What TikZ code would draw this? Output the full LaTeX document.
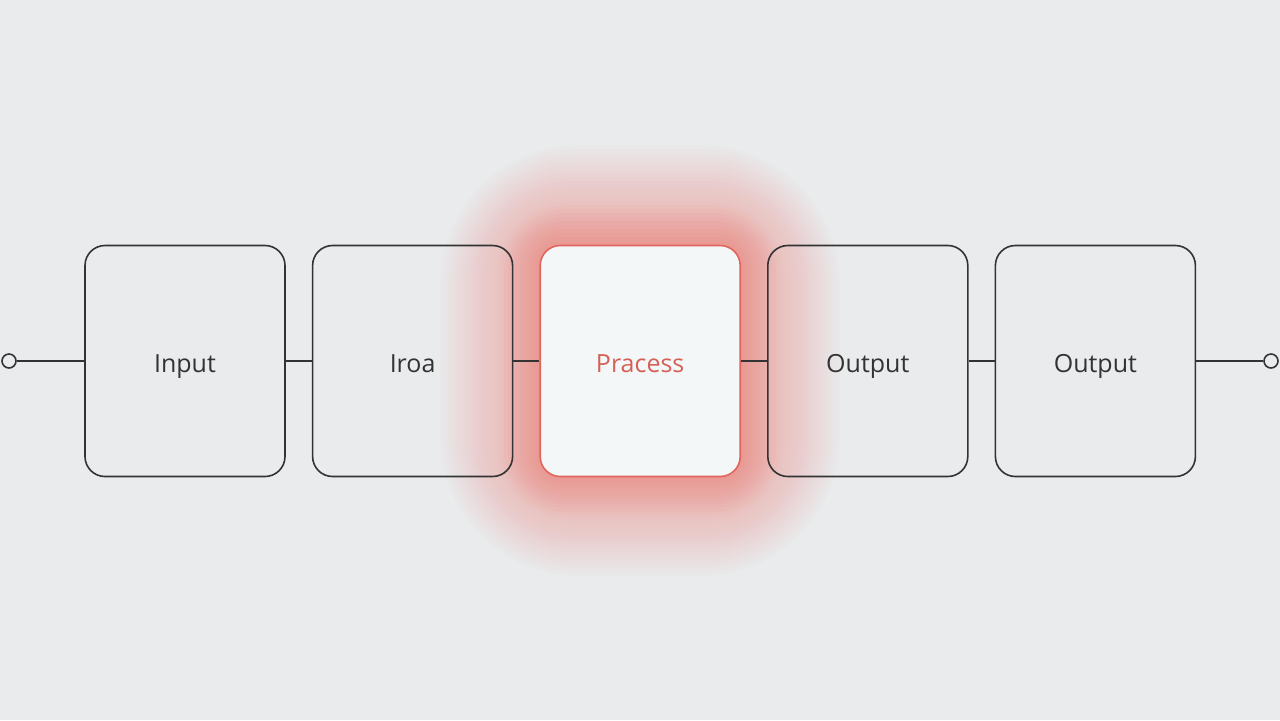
\documentclass[tikz,border=0pt]{standalone}
\usepackage{fontspec}
\setmainfont{Open Sans}
\usepackage{tikz}
\usetikzlibrary{positioning}
\definecolor{bgcol}{HTML}{E9EBEC}
\definecolor{linecol}{HTML}{333333}
\definecolor{hotcol}{HTML}{E0655B}
\definecolor{glowcol}{HTML}{F47A70}
\definecolor{boxfill}{HTML}{F4F7F8}

\begin{document}
\begin{tikzpicture}[
        x=0.5pt, y=-0.5pt,
        % Set the overall look of the stages
        stage/.style={draw=linecol, line width=0.8pt,
            rounded corners=10pt, minimum width=100pt, minimum height=115.5pt,
            inner sep=0pt, text height=11.5pt, text depth=0.5pt,
            text=linecol, font=\fontsize{12.5}{14}\selectfont},
        hotstage/.style={stage, draw=hotcol, fill=boxfill, text=hotcol!95!black},
        port/.style={circle, draw=linecol, line width=0.8pt, fill=bgcol,
            minimum size=7pt, inner sep=0pt},
        link/.style={draw=linecol, line width=0.8pt},
        node distance=13pt
    ]
    \fill[bgcol] (0,0) rectangle (1280,720);
    \useasboundingbox (0,0) rectangle (1280,720);
    % soft glow behind the highlighted stage
    \foreach \d in {0,4,...,100} {
        \fill[glowcol, opacity=0.025, rounded corners=10pt+\d*0.6pt]
            (540-\d,245-\d) rectangle (740+\d,476+\d);
    }
    \foreach \d in {0,4,...,40} {
        \fill[glowcol, opacity=0.04, rounded corners=10pt+\d*0.6pt]
            (540-\d,245-\d) rectangle (740+\d,476+\d);
    }
    % the chain of stages
    \node[stage] (input) at (185,361) {Input};
    \node[stage, right=of input] (iroa) {Iroa};
    \node[hotstage, right=of iroa] (process) {Pracess};
    \node[stage, right=of process] (outa) {Output};
    \node[stage, right=of outa] (outb) {Output};
    % ports at both ends
    \node[port] (src) at (9,361) {};
    \node[port] (dst) at (1271,361) {};
    \draw[link] (src) -- (input);
    \draw[link] (input) -- (iroa);
    \draw[link] (iroa) -- (process);
    \draw[link] (process) -- (outa);
    \draw[link] (outa) -- (outb);
    \draw[link] (outb) -- (dst);
\end{tikzpicture}
\end{document}
